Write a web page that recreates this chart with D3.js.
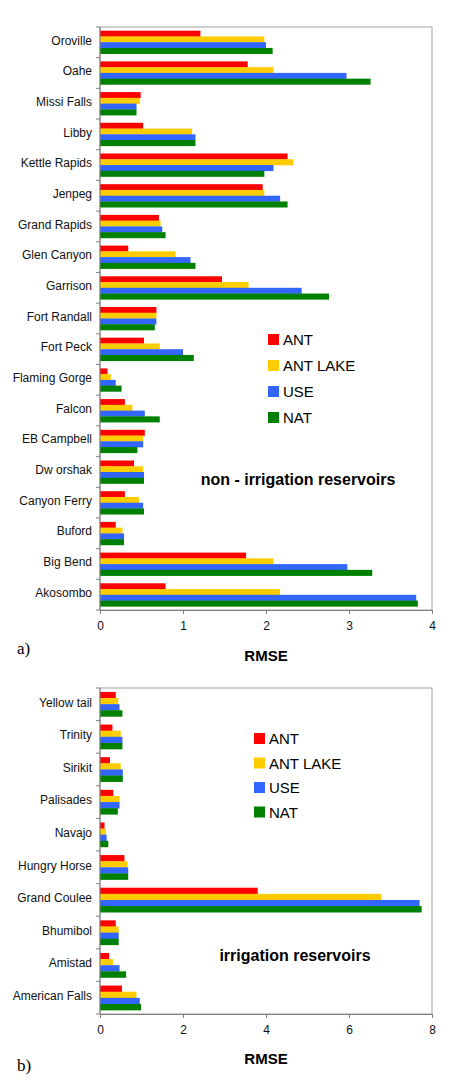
<!DOCTYPE html><html><head><meta charset="utf-8"><script src="https://cdn.jsdelivr.net/npm/d3@7"></script>
<style>body{margin:0;background:#fff}svg{display:block;font-family:Arial,"Liberation Sans",sans-serif}</style></head><body><svg id="c" width="452" height="1089"></svg>
<script>
const series=["ANT","ANT LAKE","USE","NAT"];
const colors=["#ff0000","#ffcc00","#3366ff","#008000"];
const catsA=["Oroville","Oahe","Missi Falls","Libby","Kettle Rapids","Jenpeg","Grand Rapids","Glen Canyon","Garrison","Fort Randall","Fort Peck","Flaming Gorge","Falcon","EB Campbell","Dw orshak","Canyon Ferry","Buford","Big Bend","Akosombo"];
const antA=[1.21,1.78,0.49,0.52,2.26,1.96,0.71,0.34,1.47,0.68,0.53,0.09,0.30,0.54,0.41,0.30,0.19,1.76,0.79];
const antLakeA=[1.98,2.09,0.48,1.11,2.33,1.98,0.73,0.91,1.79,0.68,0.72,0.13,0.39,0.52,0.52,0.47,0.27,2.09,2.17];
const useA=[2.00,2.97,0.44,1.15,2.09,2.17,0.75,1.09,2.43,0.68,1.00,0.19,0.54,0.52,0.53,0.52,0.29,2.98,3.81];
const natA=[2.08,3.26,0.44,1.15,1.98,2.26,0.79,1.15,2.76,0.66,1.13,0.26,0.72,0.45,0.53,0.53,0.29,3.28,3.83];
const ticksA=[0,1,2,3,4];
const catsB=["Yellow tail","Trinity","Sirikit","Palisades","Navajo","Hungry Horse","Grand Coulee","Bhumibol","Amistad","American Falls"];
const antB=[0.38,0.30,0.24,0.32,0.11,0.59,3.80,0.38,0.22,0.53];
const antLakeB=[0.44,0.50,0.50,0.47,0.14,0.66,6.78,0.45,0.32,0.88];
const useB=[0.47,0.54,0.55,0.47,0.16,0.68,7.70,0.45,0.47,0.96];
const natB=[0.54,0.54,0.55,0.43,0.20,0.68,7.75,0.45,0.63,0.99];
const ticksB=[0,2,4,6,8];

const svg=d3.select("#c");
function chart(o){
  const g=svg.append("g");
  const x=d3.scaleLinear().domain([0,o.max]).range([100,432]);
  const y=d3.scaleBand().domain(o.cats).range([o.top,o.bottom]).paddingInner(0.25).paddingOuter(0.12);
  const band=d3.scaleBand().domain(series).range([0,y.bandwidth()]);
  g.append("rect").attr("x",100).attr("y",o.top).attr("width",332).attr("height",o.bottom-o.top).attr("fill","none").attr("stroke","#a0a0a0").attr("stroke-width",1);
  const vals=[o.a,o.al,o.u,o.n];
  series.forEach((s,si)=>{
    g.selectAll(null).data(o.cats).enter().append("rect")
      .attr("x",x(0)).attr("y",(c)=>y(c)+band(s)).attr("height",band.bandwidth()+0.3)
      .attr("width",(c,i)=>x(vals[si][i])-x(0)).attr("fill",colors[si]);
  });
  const step=(o.bottom-o.top)/o.cats.length;
  const ya=g.append("g").attr("transform","translate(100,0)");
  ya.append("line").attr("y1",o.top).attr("y2",o.bottom).attr("stroke","#808080");
  d3.range(o.cats.length+1).forEach(i=>ya.append("line").attr("x1",-4).attr("x2",0).attr("y1",o.top+i*step).attr("y2",o.top+i*step).attr("stroke","#808080"));
  o.cats.forEach((c,i)=>ya.append("text").attr("x",-8).attr("y",o.top+(i+0.5)*step-2).attr("dy","0.35em").attr("text-anchor","end").attr("font-size",12).attr("fill","#111").text(c));
  const xa=g.append("g").attr("transform",`translate(0,${o.bottom})`).call(d3.axisBottom(x).tickValues(o.ticks).tickSize(4).tickFormat(d3.format("d")));
  xa.select(".domain").attr("stroke","#808080");
  xa.selectAll(".tick line").attr("stroke","#808080");
  xa.selectAll("text").attr("font-size",12).attr("fill","#111").attr("dy","1.1em");
  g.append("text").attr("x",266).attr("y",o.rmseY).attr("text-anchor","middle").attr("font-weight","bold").attr("font-size",15).text("RMSE");
  g.append("text").attr("x",17).attr("y",o.labY).attr("font-family","Liberation Serif,serif").attr("font-size",17).text(o.lab);
  series.forEach((s,i)=>{
    g.append("rect").attr("x",o.lx).attr("y",o.ly+i*o.ls-5).attr("width",11).attr("height",11).attr("fill",colors[i]);
    g.append("text").attr("x",o.lx+15).attr("y",o.ly+i*o.ls+1).attr("dy","0.35em").attr("font-size",15).text(s);
  });
  g.append("text").attr("x",o.ax).attr("y",o.ay).attr("text-anchor","middle").attr("font-weight","bold").attr("font-size",16).text(o.ann);
}
chart({cats:catsA,a:antA,al:antLakeA,u:useA,n:natA,max:4,ticks:ticksA,top:27,bottom:610,rmseY:661,labY:654,lab:"a)",lx:268,ly:339,ls:26,ax:298,ay:485,ann:"non - irrigation reservoirs"});
chart({cats:catsB,a:antB,al:antLakeB,u:useB,n:natB,max:8,ticks:ticksB,top:688,bottom:1014,rmseY:1064,labY:1071,lab:"b)",lx:254,ly:738,ls:24.5,ax:295,ay:961,ann:"irrigation reservoirs"});
</script></body></html>
